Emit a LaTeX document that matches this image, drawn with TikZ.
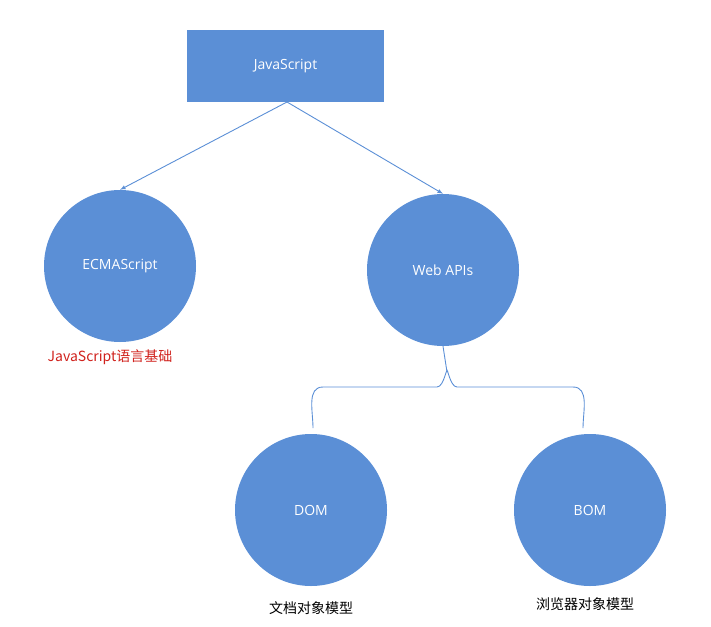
\documentclass[tikz,border=0pt]{standalone}
\usepackage{fontspec}
\setmainfont{Open Sans}
\newfontfamily\cjk{Noto Sans CJK SC}
\usetikzlibrary{positioning}
\definecolor{jsblue}{HTML}{5B8FD6}
\definecolor{jsred}{HTML}{D0211C}

\begin{document}
\begin{tikzpicture}[x=1pt,y=-1pt,
	box/.style={rectangle,fill=jsblue,text=white,minimum width=197pt,minimum height=72pt,font=\fontsize{14}{16}\selectfont},
	ball/.style={circle,fill=jsblue,text=white,minimum size=152pt,inner sep=0pt,font=\fontsize{14}{16}\selectfont},
	link/.style={draw=jsblue,line width=0.9pt},
	tag/.style={font=\cjk\fontsize{14}{16}\selectfont}]
	\useasboundingbox (0,0) rectangle (711,626);

	\node[box]  (js)   at (285.5, 66) {JavaScript};
	\node[ball] (ecma) at (120, 266)  {ECMAScript};
	\node[ball] (web)  at (443, 270)  {Web APIs};
	\node[ball] (dom)  at (311, 510)  {DOM};
	\node[ball] (bom)  at (590, 510)  {BOM};

	\node[tag,text=jsred] (ecmatag) at (110, 357) {JavaScript语言基础};
	\node[tag] (domtag) at (311, 608) {文档对象模型};
	\node[tag] (bomtag) at (585, 604) {浏览器对象模型};

	\coordinate (top)  at (287, 102);
	\coordinate (mid)  at (447, 372);
	\coordinate (left) at (313, 428);
	\coordinate (right) at (583, 428);

	\draw[link,-latex] (top) -- (ecma.north);
	\draw[link,-latex] (top) -- (web.north);
	\draw[link] (web.south) -- (mid) to[out=90,in=0] (437,387) -- (323,387)
		to[out=180,in=90] (left);
	\draw[link] (mid) to[out=90,in=180] (457,387) -- (573,387)
		to[out=0,in=90] (right);
\end{tikzpicture}
\end{document}
